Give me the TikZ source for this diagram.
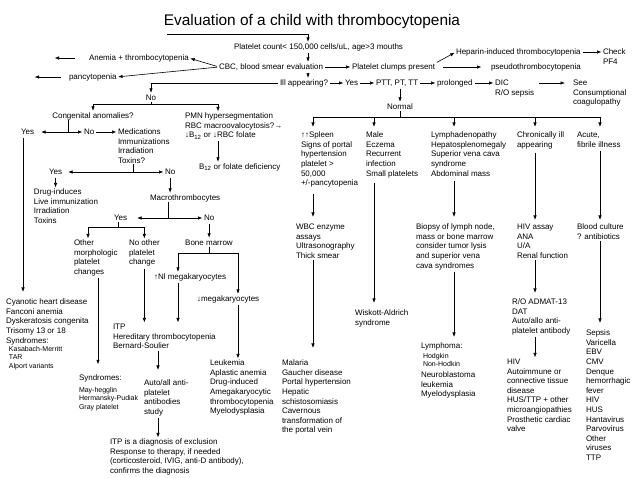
\documentclass[tikz,border=0pt]{standalone}
\usepackage{fontspec}
\setmainfont{Liberation Sans}
\usetikzlibrary{arrows.meta}

\begin{document}
\begin{tikzpicture}[x=1pt,y=-1pt,
  every node/.style={inner sep=0pt,outer sep=0pt,font=\fontsize{8}{9.6}\selectfont},
  lbl/.style={anchor=west,text height=5.8pt,text depth=1.6pt},
  blk/.style={anchor=north west,align=left},
  sml/.style={font=\fontsize{7}{8.3}\selectfont},
  brr/.style={line width=0.6pt,-{Latex[length=4.5pt,width=3.4pt]},shorten >=1.5pt},
  arr/.style={brr,shorten <=2pt},
  ln/.style={line width=0.6pt}]
\useasboundingbox (0,0) rectangle (638,478);

\node[font=\fontsize{15.4}{18}\selectfont] (title) at (312,22) {Evaluation of a child with thrombocytopenia};
\node[lbl] (plt) at (234,47) {Platelet count< 150,000 cells/uL, age>3 mouths};
\node[lbl] (cbc) at (219,67) {CBC, blood smear evaluation};
\node[lbl] (anemia) at (89,58) {Anemia + thrombocytopenia};
\node[lbl] (panc) at (69,77) {pancytopenia};
\node[lbl] (ill) at (280,83) {Ill appearing?};
\node[lbl] (clumps) at (352,67) {Platelet clumps present};
\node[lbl] (hep) at (456,52) {Heparin-induced thrombocytopenia};
\node[blk] (check) at (603,49) {Check\\PF4};
\node[lbl] (pseudo) at (491,67) {pseudothrombocytopenia};
\node[lbl] (yes1) at (345,83) {Yes};
\node[lbl] (ptt) at (376,83) {PTT, PT, TT};
\node[lbl] (prol) at (437,83) {prolonged};
\node[blk] (dic) at (495,80) {DIC\\R/O sepsis};
\node[blk] (see) at (573,80) {See\\Consumptional\\coagulopathy};
\node[lbl,anchor=center] (normal) at (400,107) {Normal};
\node[lbl,anchor=center] (no1) at (151,98) {No};

\node[lbl,anchor=center] (cong) at (93,116) {Congenital anomalies?};
\node[blk] (pmn) at (185,113) {PMN hypersegmentation\\RBC macroovalocytosis?→\\↓B\textsubscript{12} or ↓RBC folate};
\node[lbl] (b12) at (199,167) {B\textsubscript{12} or folate deficiency};
\node[lbl] (yesA) at (21,132) {Yes};
\node[lbl] (noA) at (84,132) {No};
\node[blk] (med) at (118,129) {Medications\\Immunizations\\Irradiation\\Toxins?};
\node[lbl] (yes2) at (49,172) {Yes};
\node[lbl] (no2) at (165,172) {No};
\node[blk] (drug) at (34,189) {Drug-induces\\Live immunization\\Irradiation\\Toxins};
\node[lbl] (macro) at (150,198) {Macrothrombocytes};
\node[lbl] (yes3) at (114,218) {Yes};
\node[lbl] (no3) at (204,218) {No};
\node[blk] (other) at (74,240) {Other\\morphologic\\platelet\\changes};
\node[blk] (noother) at (129,240) {No other\\platelet\\change};
\node[lbl,anchor=center] (bone) at (209,243) {Bone marrow};
\node[lbl] (nlmega) at (154,277) {↑Nl megakaryocytes};
\node[lbl] (lomega) at (197,299) {↓megakaryocytes};
\node[blk] (cyan) at (6,299) {Cyanotic heart disease\\Fanconi anemia\\Dyskeratosis congenita\\Trisomy 13 or 18\\Syndromes:};
\node[blk,sml] (cyansub) at (9,346.5) {Kasabach-Merritt\\TAR\\Alport variants};
\node[blk] (itp) at (113,324) {ITP\\Hereditary thrombocytopenia\\Bernard-Soulier};
\node[lbl] (syn) at (79,378) {Syndromes:};
\node[blk,sml] (may) at (79,387.5) {May-hegglin\\Hermansky-Pudiak\\Gray platelet};
\node[blk] (auto) at (144,380) {Auto/all anti-\\platelet\\antibodies\\study};
\node[blk] (excl) at (110,439) {ITP is a diagnosis of exclusion\\Response to therapy, if needed\\(corticosteroid, IVIG, anti-D antibody),\\confirms the diagnosis};
\node[blk] (leuk) at (210,360) {Leukemia\\Aplastic anemia\\Drug-induced\\Amegakaryocytic\\thrombocytopenia\\Myelodysplasia};
\node[blk] (malaria) at (282,360) {Malaria\\Gaucher disease\\Portal hypertension\\Hepatic\\schistosomiasis\\Cavernous\\transformation of\\the portal vein};

\node[blk] (spleen) at (301,132) {↑↑Spleen\\Signs of portal\\hypertension\\platelet >\\50,000\\+/-pancytopenia};
\node[blk] (male) at (366,132) {Male\\Eczema\\Recurrent\\infection\\Small platelets};
\node[blk] (lymph) at (431,132) {Lymphadenopathy\\Hepatosplenomegaly\\Superior vena cava\\syndrome\\Abdominal mass};
\node[blk] (chronic) at (517,132) {Chronically ill\\appearing};
\node[blk] (acute) at (577,132) {Acute,\\fibrile illness};
\node[blk] (wbc) at (296,224) {WBC enzyme\\assays\\Ultrasonography\\Thick smear};
\node[blk] (biopsy) at (416,224) {Biopsy of lymph node,\\mass or bone marrow\\consider tumor lysis\\and superior vena\\cava syndromes};
\node[blk] (hivA) at (517,224) {HIV assay\\ANA\\U/A\\Renal function};
\node[blk] (blood) at (577,224) {Blood culture\\? antibiotics};
\node[blk] (wisk) at (355,310) {Wiskott-Aldrich\\syndrome};
\node[blk] (adamts) at (512,299) {R/O ADMAT-13\\DAT\\Auto/allo anti-\\platelet antibody};
\node[blk] (lymphoma) at (421,343) {Lymphoma:};
\node[blk,sml] (hodg) at (423,353.4) {Hodgkin\\Non-Hodkin};
\node[blk] (neuro) at (421,372) {Neuroblastoma\\leukemia\\Myelodysplasia};
\node[blk] (hivB) at (507,359) {HIV\\Autoimmune or\\connective tissue\\disease\\HUS/TTP + other\\microangiopathies\\Prosthetic cardiac\\valve};
\node[blk] (sepsis) at (586,330) {Sepsis\\Varicella\\EBV\\CMV\\Denque\\hemorrhagic\\fever\\HIV\\HUS\\Hantavirus\\Parvovirus\\Other\\viruses\\TTP};

\coordinate (spine) at (308,0);
\coordinate (anemiaL) at (53,58);
\coordinate (pancL) at (33,77);
\coordinate (nobar) at (151,104);
\coordinate (congcol) at (68,0);
\coordinate (congbar) at (68,132);
\coordinate (medbar) at (133,172);
\coordinate (macbar) at (168,218);
\coordinate (y3bar) at (118,227);
\coordinate (othercol) at (88,0);
\coordinate (othdown) at (98,0);
\coordinate (bbar) at (209,253);
\coordinate (nlcol) at (178,0);
\coordinate (locol) at (238,0);
\coordinate (itpcol) at (158,0);
\coordinate (yescol) at (23,0);
\coordinate (pmncol) at (218,0);
\coordinate (nbar) at (400,117);
\coordinate (spcol) at (313,0);
\coordinate (malecol) at (374,0);
\coordinate (lycol) at (454,0);
\coordinate (chcol) at (535,0);
\coordinate (accol) at (600,0);

\draw[brr] ([xshift=3pt,yshift=-5pt]title.south west) -| (plt.north -| spine);
\draw[arr] (plt.south -| spine) -- (cbc.north -| spine);
\draw[arr] (cbc.south -| spine) -- (ill.north -| spine);
\draw[arr] (cbc.west) -- (anemia.east);
\draw[arr] (cbc.west) -- (panc.east);
\draw[arr] ([xshift=-12pt]anemia.west) -- (anemiaL);
\draw[arr] ([xshift=-6pt]panc.west) -- (pancL);
\draw[arr] (cbc.east) -- (clumps.west);
\draw[arr] (clumps.north east) -- (hep.west);
\draw[arr] ([xshift=6pt]clumps.east) -- ([xshift=-8pt]pseudo.west);
\draw[arr] (hep.east) -- (hep.east -| check.west);
\draw[arr] (ill.east) -- (yes1.west);
\draw[arr] (yes1.east) -- (ptt.west);
\draw[arr] (ptt.east) -- (prol.west);
\draw[arr] (prol.east) -- (prol.east -| dic.west);
\draw[arr,shorten >=8pt] ([xshift=3pt]dic.east |- prol.east) -- (see.west |- prol.east);
\draw[arr] (ptt.south -| normal) -- (normal.north);
\draw[arr] (ill.west) -| (no1.north);

\draw[ln] (no1.south) -- (nobar);
\draw[brr] (nobar) -| (cong.north);
\draw[brr] (nobar) -| (pmn.north -| pmncol);
\draw[arr] (pmn.south -| pmncol) -- (b12.north -| pmncol);
\draw[ln] (cong.south -| congcol) -- (congbar);
\draw[brr,shorten >=7pt] (congbar) -- (yesA.east);
\draw[brr] (congbar) -- (noA.west);
\draw[arr] (noA.east) -- (noA.east -| med.west);
\draw[ln] (med.south -| medbar) -- (medbar);
\draw[brr,shorten >=6pt] (medbar) -- (yes2.east);
\draw[brr] (medbar) -- (no2.west);
\draw[arr] (yes2.south) -- (yes2.south |- drug.north);
\draw[arr] (no2.south) -- (no2.south |- macro.north);
\draw[ln] (macro.south -| macbar) -- (macbar);
\draw[brr,shorten >=10pt] (macbar) -- (yes3.east);
\draw[brr] (macbar) -- (no3.west);
\draw[ln] (yes3.south -| y3bar) -- (y3bar);
\draw[brr] (y3bar) -| (other.north -| othercol);
\draw[brr] (y3bar) -| (noother.north);
\draw[arr] (no3.south) -- (no3.south |- bone.north);
\draw[ln] (bone.south) -- (bbar);
\draw[brr] (bbar) -| (nlmega.north -| nlcol);
\draw[brr] (bbar) -| (lomega.north -| locol);
\draw[arr,shorten >=10pt] (other.south -| othdown) -- (syn.north -| othdown);
\draw[arr] (noother.south) -- (noother.south |- itp.north);
\draw[arr] (nlmega.south -| nlcol) -- (itp.north -| nlcol);
\draw[arr] (lomega.south -| locol) -- (leuk.north -| locol);
\draw[arr,shorten >=10pt] (itp.south -| itpcol) -- (auto.north -| itpcol);
\draw[arr] (auto.south -| itpcol) -- (excl.north -| itpcol);
\draw[arr,shorten >=7pt] (yesA.south -| yescol) -- (cyan.north -| yescol);

\draw[ln] (normal.south) -- (nbar);
\draw[ln] (nbar -| spcol) -- (nbar -| accol);
\draw[brr,shorten >=5pt] (nbar -| spcol) -- (spleen.north -| spcol);
\draw[brr,shorten >=5pt] (nbar -| malecol) -- (male.north -| malecol);
\draw[brr,shorten >=5pt] (nbar -| lycol) -- (lymph.north -| lycol);
\draw[brr,shorten >=5pt] (nbar -| chcol) -- (chronic.north -| chcol);
\draw[brr,shorten >=5pt] (nbar -| accol) -- (acute.north -| accol);
\draw[arr,shorten <=7pt,shorten >=7pt] (spleen.south -| spcol) -- (wbc.north -| spcol);
\draw[arr,shorten <=5pt,shorten >=7pt] (male.south -| malecol) -- (wisk.north -| malecol);
\draw[arr,shorten <=5pt,shorten >=7pt] (lymph.south -| lycol) -- (biopsy.north -| lycol);
\draw[arr,shorten <=4pt,shorten >=4pt] (chronic.south -| chcol) -- (hivA.north -| chcol);
\draw[arr,shorten <=4pt,shorten >=4pt] (acute.south -| accol) -- (blood.north -| accol);
\draw[arr,shorten >=12pt] (wbc.south -| spcol) -- (malaria.north -| spcol);
\draw[arr,shorten >=6pt] (biopsy.south -| lycol) -- (lymphoma.north -| lycol);
\draw[arr,shorten >=6pt] (hivA.south -| chcol) -- (adamts.north -| chcol);
\draw[arr] (adamts.south -| chcol) -- (hivB.north -| chcol);
\draw[arr,shorten >=7pt] (blood.south -| accol) -- (sepsis.north -| accol);
\end{tikzpicture}
\end{document}
